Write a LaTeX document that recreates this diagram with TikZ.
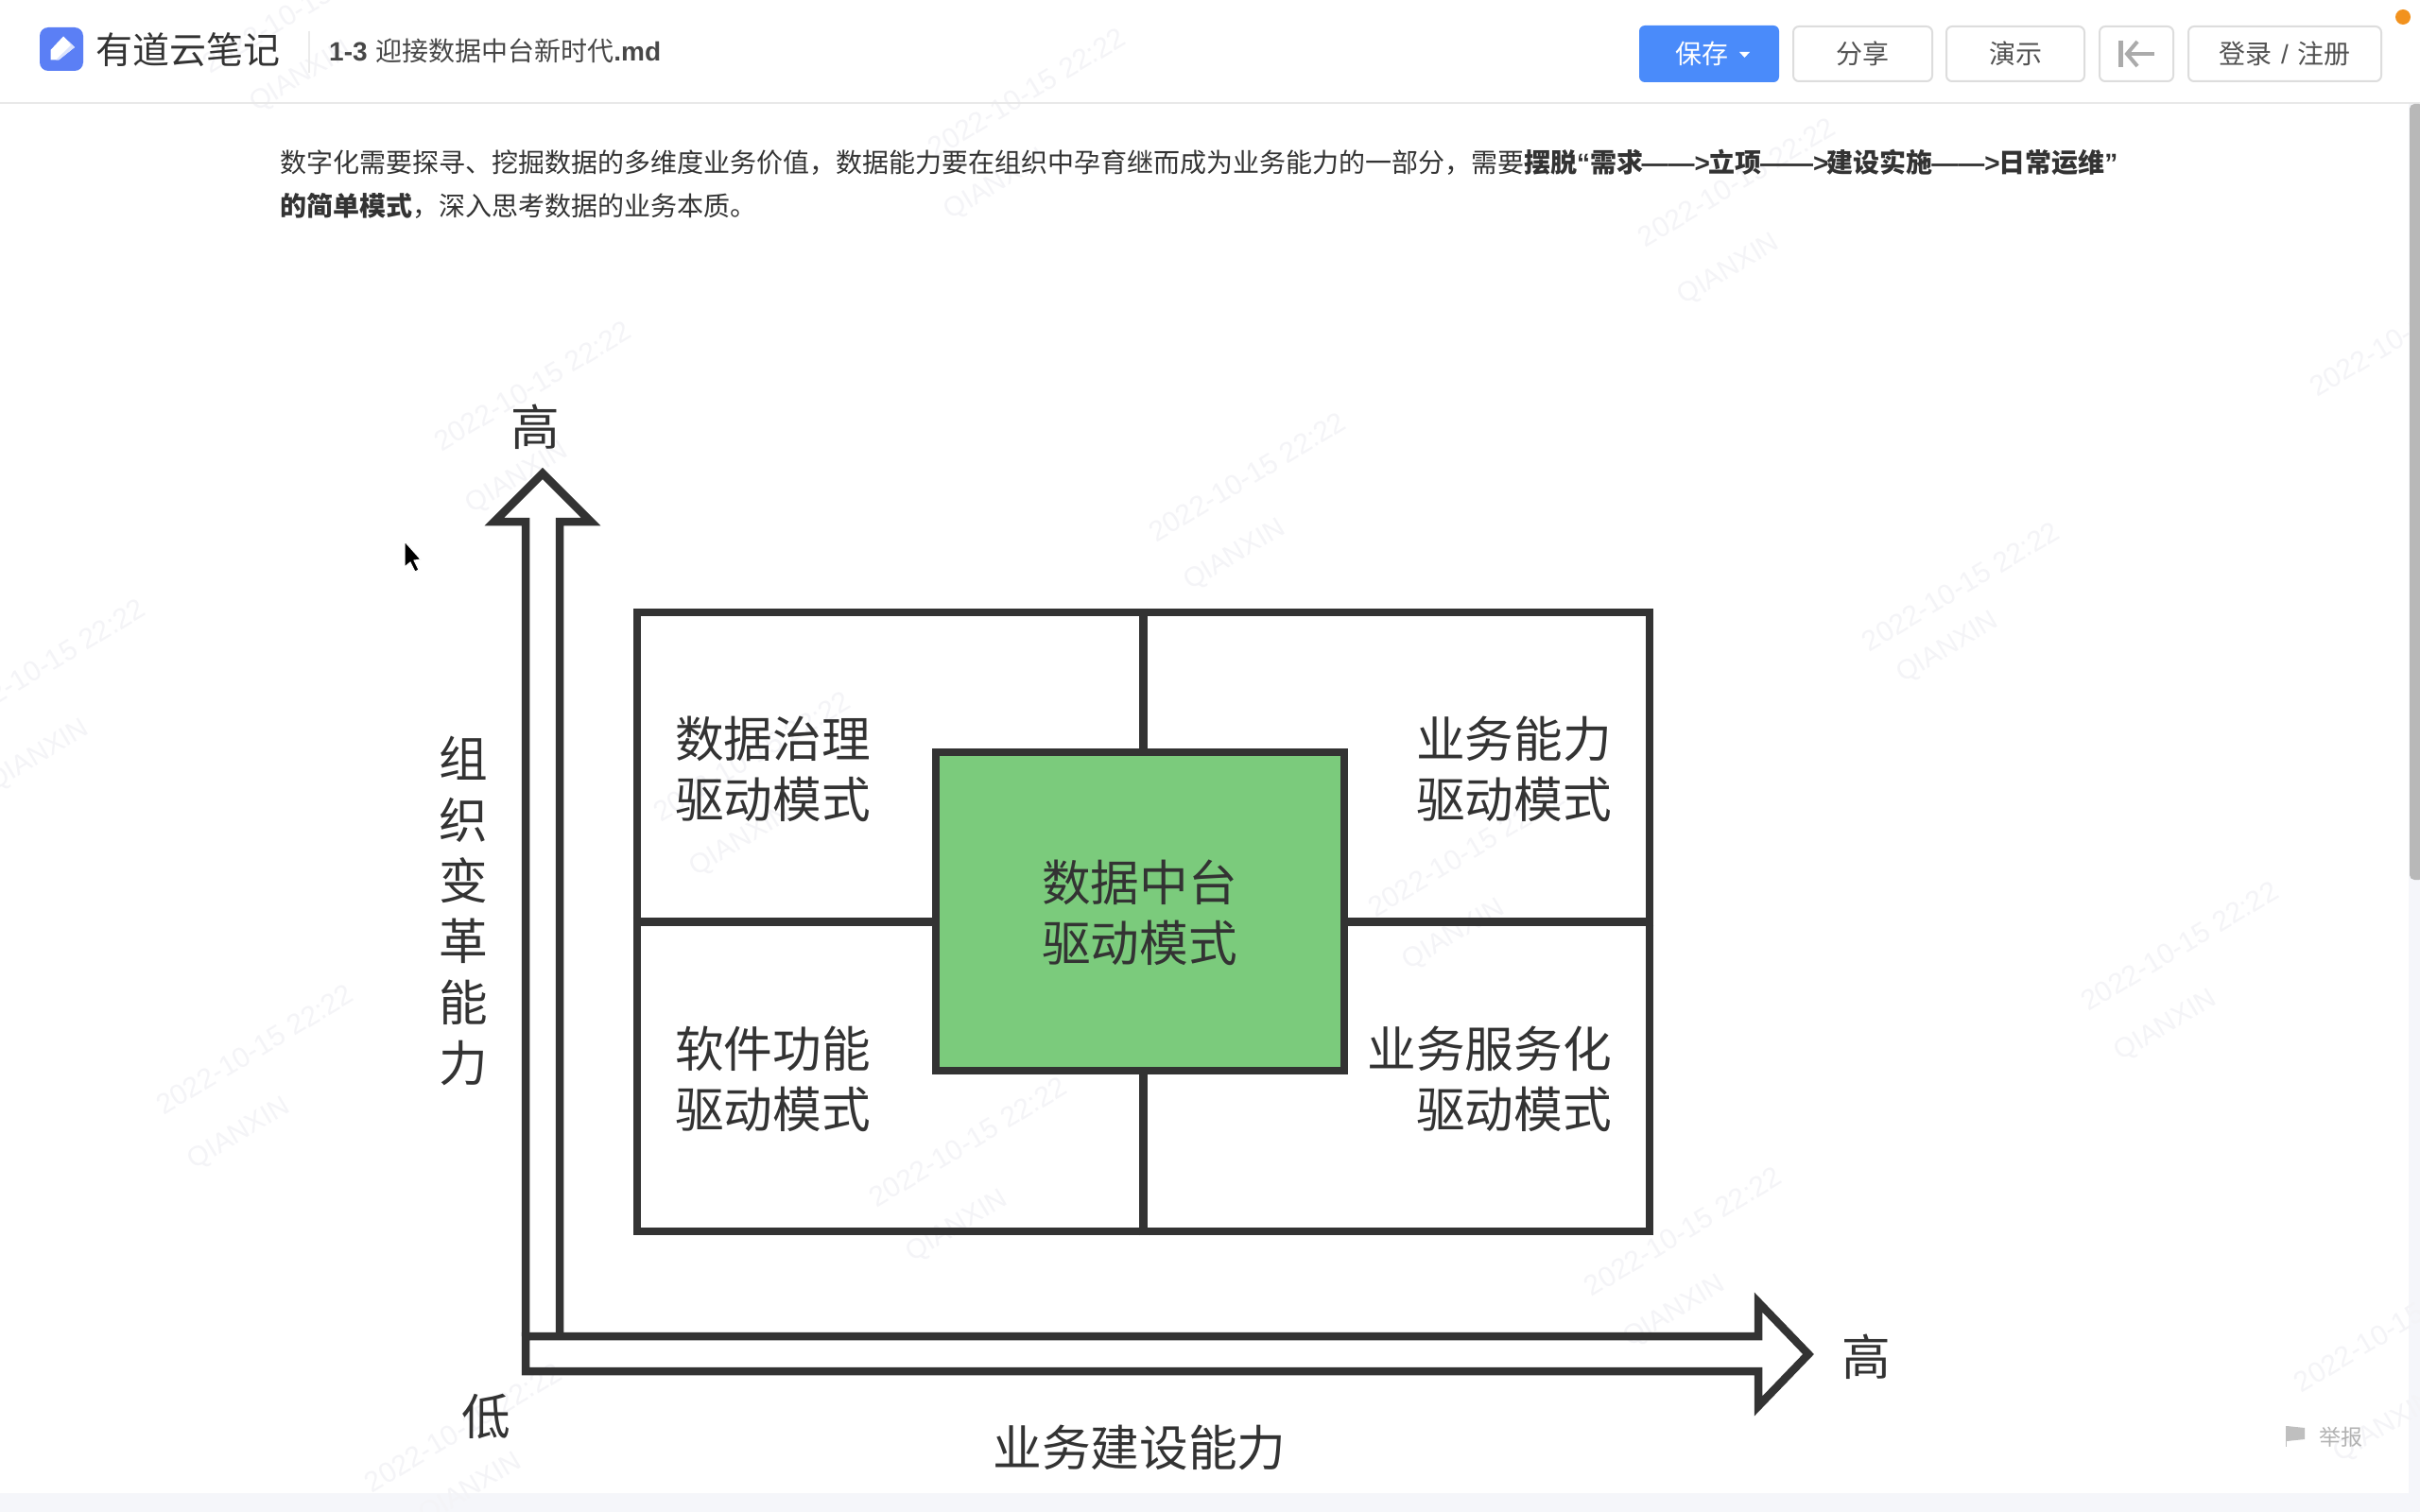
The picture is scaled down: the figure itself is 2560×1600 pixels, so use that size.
\documentclass[tikz,border=0pt]{standalone}
\usepackage{fontspec}
\setmainfont{Noto Sans CJK SC}
\newfontfamily\lat{Liberation Sans}
\usetikzlibrary{calc}
\definecolor{ink}{HTML}{333333}
\definecolor{wm}{HTML}{F4F4F7}
\definecolor{page}{HTML}{F5F6FA}
\definecolor{btn}{HTML}{DDDDDD}
\definecolor{btnblue}{HTML}{4A8BFA}
\definecolor{logoblue}{HTML}{5B7FF5}
\definecolor{greenbox}{HTML}{7BCB7C}
\definecolor{dot}{HTML}{F2921E}
\newcommand{\arrowtxt}{\hspace{-1.5pt}{\lat ——>}\hspace{-1.5pt}}
\tikzset{
  txt/.style={inner sep=0pt,text=ink,font=\fontsize{#1}{#1}\selectfont,text height=0.88*#1 pt,text depth=0.12*#1 pt},
  big/.style={inner sep=0pt,text=ink,font=\fontsize{51.7}{64}\selectfont},
  line8/.style={draw=ink,line width=8.5pt,line join=miter},
  boxed/.style={line8,inner sep=0pt,rectangle},
  btnbox/.style={draw=btn,line width=2pt,rounded corners=6pt},
  wmA/.style={inner sep=0pt,text=wm,rotate=31,font=\fontsize{#1}{#1}\selectfont\lat},
}
\begin{document}
\begin{tikzpicture}[x=1pt,y=-1pt]
\useasboundingbox (0,0) rectangle (2560,1600);
\clip (0,0) rectangle (2560,1600);
\fill[white] (0,0) rectangle (2560,1600);
\fill[page] (0,1580) rectangle (2560,1600);
\fill[page] (2548,110) rectangle (2560,1600);
% watermarks
\foreach \x/\y [count=\i] in {195/5,665/60,1125/118,1560/215,345/250,808/309,1270/380,30/430,487/490,950/552,1412/613,165/680,627/740,1090/798,1550/860,300/925}
  \node[wmA=30] (wa\i) at (\x*1.633,\y*1.633) {2022-10-15 22:22};
\foreach \x/\y [count=\i] in {195/50,645/120,1120/175,335/310,800/360,1262/420,25/490,480/545,942/606,1403/665,155/735,620/795,1085/850,1545/925,305/965}
  \node[wmA=29] (wb\i) at (\x*1.633,\y*1.633) {QIANXIN};
% header
\draw[draw=black!9,line width=2pt] (0,109) -- (2560,109);
\fill[logoblue,rounded corners=9pt] (42,29) rectangle (88,75);
\fill[white] (67,38.5) -- (79,50) -- (62,63.5) -- (53.5,63.5) -- (53.5,53) -- cycle;
\fill[logoblue!22] (72,43.5) -- (79,50) -- (62,63.5) -- (59,63.5) -- (75,48) -- cycle;
\node[txt=39,anchor=west] (brand) at (101,53) {有道云笔记};
\draw[draw=black!8,line width=2pt] (327,33) -- (327,77);
\node[txt=28,anchor=west,text=black!72] (doc) at (348,53.5) {{\lat\bfseries 1-3 }\hspace{1pt}迎接数据中台新时代{\lat\bfseries .md}};
% buttons
\fill[btnblue,rounded corners=6pt] (1734,27) rectangle (1882,87);
\node[txt=28,text=white] (save) at (1800,57) {保存};
\fill[white] (1840,55) -- (1851,55) -- (1845.5,61) -- cycle;
\draw[btnbox] (1897,28) rectangle (2044,86);
\node[txt=28,text=black!68] (share) at (1970.5,57) {分享};
\draw[btnbox] (2059,28) rectangle (2205,86);
\node[txt=28,text=black!68] (demo) at (2132,57) {演示};
\draw[btnbox] (2221,28) rectangle (2299,86);
\draw[black!33,line width=5pt] (2243.5,43) -- (2243.5,71);
\draw[black!33,line width=4pt,line join=miter] (2261,44) -- (2250,57) -- (2261,70);
\draw[black!33,line width=4pt] (2250,57) -- (2279,57);
\draw[btnbox] (2315,28) rectangle (2519,86);
\node[txt=28,text=black!68] (login) at (2417,57) {登录\hspace{1.5pt}{\lat\ /\ }\hspace{1.5pt}注册};
\fill[dot] (2542,18) circle (8);
\fill[black!28,rounded corners=5pt] (2549,110) rectangle (2564,931);
% paragraph
\node[txt=28,anchor=base west] (p1) at (296,182.6) {数字化需要探寻、挖掘数据的多维度业务价值，数据能力要在组织中孕育继而成为业务能力的一部分，需要\textbf{摆脱{\lat “}需求\arrowtxt 立项\arrowtxt 建设实施\arrowtxt 日常运维{\lat ”}}};
\node[txt=28,anchor=base west] (p2) at (296,228) {\textbf{的简单模式}，深入思考数据的业务本质。};
% cursor
\fill[black,draw=white,line width=1pt] (428,573) -- (428,600) -- (434,595) -- (439,605) -- (443,603) -- (438,593) -- (445,592) -- cycle;
% grid
\node[boxed,minimum width=1071pt,minimum height=655pt] (grid) at (1209.5,975.5) {};
\node[boxed,fill=greenbox,minimum width=432pt,minimum height=337pt] (core) at (1206,964.5) {};
\node[big,align=center] (coret) at (1205.5,966) {数据中台\\驱动模式};
\draw[line8] (grid.north) -- (grid.north |- core.north);
\draw[line8] (grid.south) -- (grid.south |- core.south);
\draw[line8] (grid.west) -- (grid.west -| core.west);
\draw[line8] (grid.east) -- (grid.east -| core.east);
\node[big,anchor=west,align=left] (q1) at (714,814) {数据治理\\驱动模式};
\node[big,anchor=east,align=right] (q2) at (1705,814) {业务能力\\驱动模式};
\node[big,anchor=west,align=left] (q3) at (714,1142) {软件功能\\驱动模式};
\node[big,anchor=east,align=right] (q4) at (1705,1142) {业务服务化\\驱动模式};
% axes
\draw[line8] (556,1414) -- (1860,1414) -- (1860,1378) -- (1913,1433) -- (1860,1488) -- (1860,1451) -- (556,1451) -- cycle;
\draw[line8] (592,1414) -- (592,552) -- (625,552) -- (574,501) -- (523,552) -- (556,552) -- (556,1414);
\node[txt=51.7] (ytop) at (566,452) {高};
\node[txt=51.7] (xtop) at (1974,1436) {高};
\node[txt=51.7] (low) at (514,1499) {低};
\node[txt=51.7] (xlab) at (1205.5,1532) {业务建设能力};
\node[inner sep=0pt,text=ink,font=\fontsize{51.7}{64.3}\selectfont,align=center] (ylab) at (490,964) {组\\织\\变\\革\\能\\力};
% report
\fill[black!25] (2419,1509) -- (2438,1511) -- (2438,1523) -- (2419,1525) -- cycle;
\draw[black!25,line width=1pt] (2418.5,1509) -- (2418.5,1531);
\node[txt=23,text=black!30] (rep) at (2476,1521) {举报};
\end{tikzpicture}
\end{document}
